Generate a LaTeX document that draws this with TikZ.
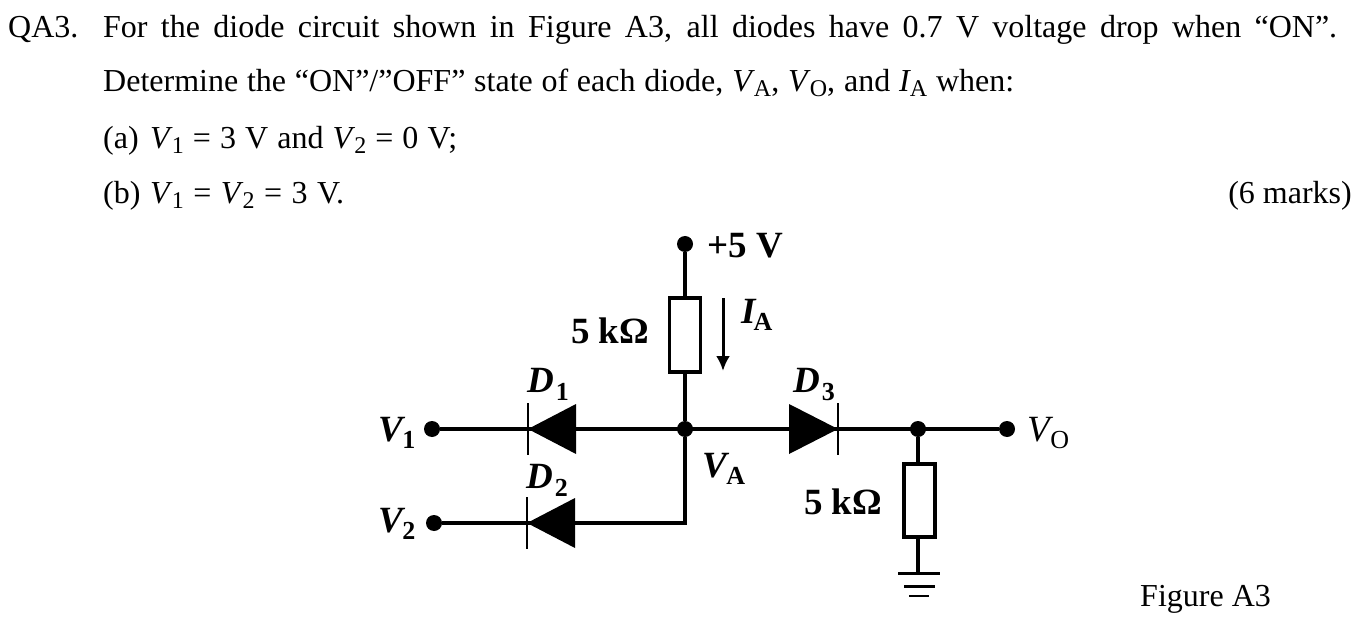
\documentclass[tikz,border=0pt]{standalone}
\usepackage{fontspec}
\setmainfont{Liberation Serif}
\usetikzlibrary{calc,arrows.meta}
\tikzset{
	wire/.style={line width=3.8pt},
	dot/.style={circle,fill=black,inner sep=0pt,minimum size=16pt},
	res/.style={draw,line width=3.6pt,fill=white,inner sep=0pt},
	txt/.style={anchor=base west,inner sep=0pt,font=\fontsize{32}{32}\selectfont},
	lbl/.style={anchor=base west,inner sep=0pt,font=\fontsize{37}{37}\selectfont\bfseries}
}
\def\diode(#1:#2:#3){\fill (#2,#3-25) -- (#2,#3+25) -- (#1,#3) -- cycle; \draw[line width=2pt] (#1,#3-26) -- (#1,#3+26);}
\newcommand{\mysub}[1]{\raisebox{-5pt}{\kern-1pt\fontsize{24}{24}\selectfont #1}}
\newcommand{\lblsub}[1]{\raisebox{-7pt}{\kern-3pt\fontsize{26}{26}\selectfont #1}}
\newcommand{\dsub}[1]{\raisebox{-8pt}{\kern2pt\fontsize{26}{26}\selectfont #1}}
\begin{document}
\begin{tikzpicture}[x=1pt,y=-1pt]
	\useasboundingbox (0,0) rectangle (1370,620);
	%%%%% QUESTION %%%%%
	\node[txt] (qnum) at (8,38) {QA3.};
	\node[txt] (line1) at (103,38) {\makebox[1234pt][s]{For the diode circuit shown in Figure A3, all diodes have 0.7 V voltage drop when “ON”.}};
	\node[txt] (line2) at (103,92) {\makebox[911pt][s]{Determine the “ON”/”OFF” state of each diode, \textit{V}\mysub{A}, \textit{V}\mysub{O}, and \textit{I}\mysub{A} when:}};
	\node[txt] (parta) at (103,149) {(a)};
	\node[txt] (partasum) at (150,149) {\makebox[307pt][s]{\textit{V}\mysub{1} = 3 V and \textit{V}\mysub{2} = 0 V;}};
	\node[txt] (partb) at (103,204) {(b)};
	\node[txt] (partbsum) at (150,204) {\makebox[194pt][s]{\textit{V}\mysub{1} = \textit{V}\mysub{2} = 3 V.}};
	\node[txt,anchor=base east] (marks) at (1352,204) {(6 marks)};
	\node[txt] (figname) at (1140,606) {Figure A3};

	%%%%% CIRCUIT %%%%%
	\node[dot] (top) at (685,244) {};
	\node[dot] (juncA) at (685,429) {};
	\node[dot] (juncO) at (918,429) {};
	\node[dot] (dotO) at (1007,429) {};
	\node[dot] (dotone) at (432,429) {};
	\node[dot] (dottwo) at (434,523) {};
	\coordinate (corner) at (685,523);
	\coordinate (gnd) at (918,573);

	\node[res,minimum width=31pt,minimum height=74pt] (Rtop) at (685,335) {};
	\node[res,minimum width=31pt,minimum height=73pt] (Rbot) at (919.5,500.5) {};

	\draw[wire] (top) -- (Rtop);
	\draw[wire] (Rtop) -- (juncA);
	\draw[wire] (dotone) -- (dotO);
	\draw[wire] (juncA) -- (corner) -- (dottwo);
	\draw[wire] (juncO) -- (juncO |- Rbot.north);
	\draw[wire] (juncO |- Rbot.south) -- (gnd);

	\diode(528:576:429)
	\diode(527:575:523)
	\diode(838:789:429)

	\draw[line width=3pt] (898,573) -- (940,573);
	\draw[line width=3pt] (904,586) -- (935,586);
	\draw[line width=2.6pt] (909,596) -- (929,596);

	\draw[line width=3pt,-{Latex[length=15pt,width=14pt]}] (723,298) -- (723,371);

	\node[lbl] (plusfive) at (707,258) {+5 V};
	\node[lbl] (Rtoplbl) at (571,343) {5 kΩ};
	\node[lbl] (Rbotlbl) at (804,514) {5 kΩ};
	\node[lbl] (Ialbl) at (741,323) {\textit{I}\lblsub{A}};
	\node[lbl] (Donelbl) at (527,392) {\textit{D}\dsub{1}};
	\node[lbl] (Dtwolbl) at (526,488) {\textit{D}\dsub{2}};
	\node[lbl] (Dthreelbl) at (793,392) {\textit{D}\dsub{3}};
	\node[lbl] (Valbl) at (702,477) {\textit{V}\lblsub{A}};
	\node[lbl] (Vonelbl) at (378,441) {\textit{V}\lblsub{1}};
	\node[lbl] (Vtwolbl) at (378,532) {\textit{V}\lblsub{2}};
	\node[txt,font=\fontsize{37}{37}\selectfont] (Volbl) at (1027,441) {\textit{V}\lblsub{O}};
\end{tikzpicture}
\end{document}
